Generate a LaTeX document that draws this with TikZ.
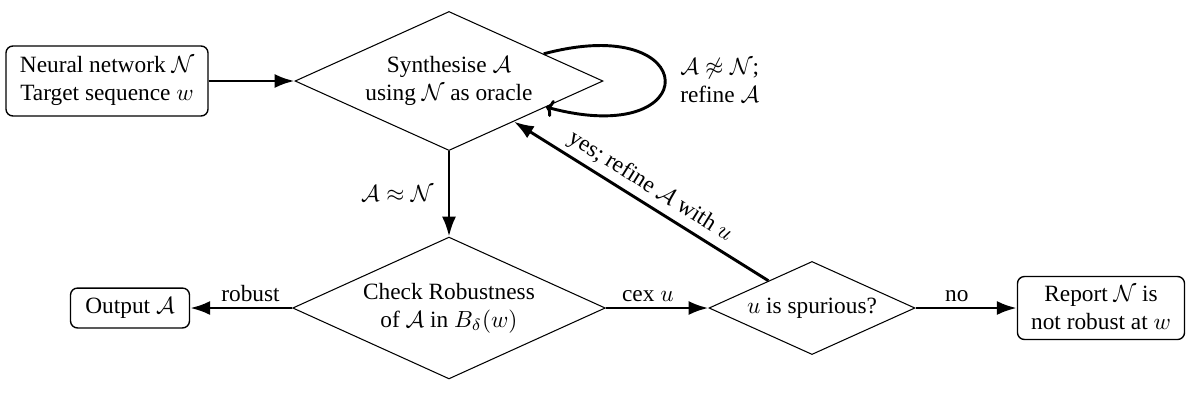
\documentclass[tikz,border=0pt]{standalone}
\usepackage{fontspec}
\setmainfont{Liberation Serif}
\usetikzlibrary{shapes.geometric, arrows.meta}
\tikzset{
  dia/.style={diamond, draw, line width=0.45pt, aspect=2.2, inner sep=0pt, align=center},
  rbox/.style={draw, rounded corners=3pt, line width=0.6pt, align=center, inner sep=1pt},
  arr/.style={line width=1.25pt, -{Latex[length=8.5pt,width=6pt]}},
  looparr/.style={line width=1.25pt, -{To[length=3pt,width=7.5pt]}},
  lab/.style={inner sep=2pt},
}
\begin{document}
\begin{tikzpicture}[x=0.4286pt, y=-0.4286pt]
\path[use as bounding box] (0,0) rectangle (1198,415);
\node[rbox, minimum width=86.6pt, minimum height=30pt] (in) at (107,81) {Neural network $\mathcal{N}$\\Target sequence $w$};
\node[dia, minimum width=132pt, minimum height=59.6pt] (syn) at (449,81) {Synthesise $\mathcal{A}$\\using $\mathcal{N}$ as oracle};
\node[dia, minimum width=134pt, minimum height=60.8pt] (chk) at (449,308) {Check Robustness\\of $\mathcal{A}$ in $B_\delta(w)$};
\node[dia, minimum width=88.3pt, minimum height=39.9pt] (spu) at (812,308) {$u$ is spurious?};
\node[rbox, minimum width=51pt, minimum height=17.1pt] (out) at (130,308) {Output $\mathcal{A}$};
\node[rbox, minimum width=71.6pt, minimum height=27pt] (rep) at (1101,308) {Report $\mathcal{N}$ is\\not robust at $w$};

\draw[arr] (in.east) -- (syn.west);
\draw[looparr] (syn.16) .. controls +(160,-43) and +(160,43) .. (syn.-15)
  node[lab, pos=0.5, right, align=center, xshift=4pt] {$\mathcal{A}\not\approx\mathcal{N}$;\\refine $\mathcal{A}$};
\draw[arr] (syn.south) -- (chk.north) node[lab, midway, left, xshift=-4pt] {$\mathcal{A}\approx\mathcal{N}$};
\draw[arr] (chk.west) -- (out.east) node[lab, midway, above, xshift=4pt] {robust};
\draw[arr] (chk.east) -- (spu.west) node[lab, midway, above, xshift=-4pt] {cex $u$};
\draw[arr] (spu.east) -- (rep.west) node[lab, midway, above, xshift=-4pt] {no};
\draw[arr] (spu) -- (syn) node[lab, midway, above, sloped] {yes; refine $\mathcal{A}$ with $u$};
\end{tikzpicture}
\end{document}
